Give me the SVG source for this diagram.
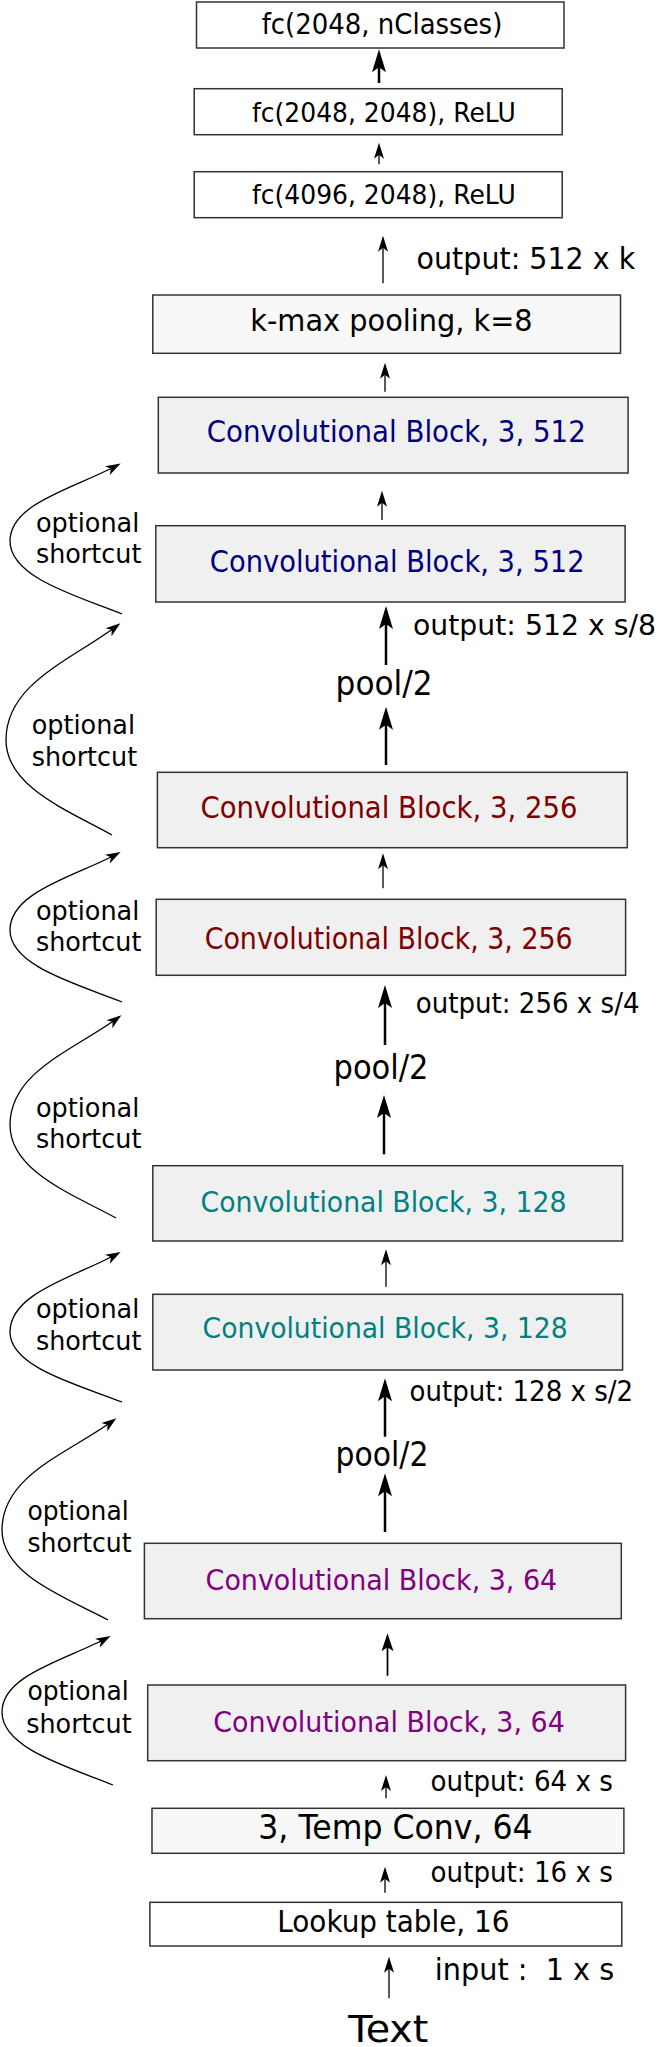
<svg xmlns="http://www.w3.org/2000/svg" width="664" height="2047" viewBox="0 0 664 2047">
<style>
text{font-family:"DejaVu Sans","Liberation Sans",sans-serif;fill:#000}
.box{stroke:#333;stroke-width:1.5}
.w{fill:#fff}.l{fill:#f8f8f8}.g{fill:#f0f0f0}
.c512{fill:#000080}.c256{fill:#800000}.c128{fill:#008080}.c64{fill:#800080}
.thin{stroke:#000;stroke-width:1.3;fill:none;marker-end:url(#ah-thin)}
.med{stroke:#000;stroke-width:1.8;fill:none;marker-end:url(#ah-med)}
.thick{stroke:#000;stroke-width:2.5;fill:none;marker-end:url(#ah-thick)}
.sc{stroke:#000;stroke-width:1.3;fill:none;marker-end:url(#ah-curve)}
</style>
<defs>
<marker id="ah-thin" markerUnits="userSpaceOnUse" orient="auto" refX="0" refY="0" markerWidth="1" markerHeight="1" overflow="visible"><path d="M4,0 L-12,-5 L-8,0 L-12,5 Z" fill="#000"/></marker>
<marker id="ah-med" markerUnits="userSpaceOnUse" orient="auto" refX="0" refY="0" markerWidth="1" markerHeight="1" overflow="visible"><path d="M5,0 L-13,-6 L-9,0 L-13,6 Z" fill="#000"/></marker>
<marker id="ah-thick" markerUnits="userSpaceOnUse" orient="auto" refX="0" refY="0" markerWidth="1" markerHeight="1" overflow="visible"><path d="M6,0 L-17,-7 L-12,0 L-17,7 Z" fill="#000"/></marker>
<marker id="ah-curve" markerUnits="userSpaceOnUse" orient="auto" refX="0" refY="0" markerWidth="1" markerHeight="1" overflow="visible"><path d="M3,0 L-12,-5 L-8,0 L-12,5 Z" fill="#000"/></marker>
</defs>
<rect width="664" height="2047" fill="#fff"/>

<g id="connectors">
<line class="thick" x1="379" y1="83" x2="379" y2="55.3"/>
<line class="thin" x1="379" y1="164.3" x2="379" y2="146.7"/>
<line class="thin" x1="383" y1="283.3" x2="383" y2="239.7"/>
<line class="thin" x1="385" y1="391.7" x2="385" y2="366.7"/>
<line class="thin" x1="382" y1="520" x2="382" y2="494.7"/>
<line class="thick" x1="386" y1="665" x2="386" y2="612"/>
<line class="thick" x1="386" y1="765" x2="386" y2="712.7"/>
<line class="thin" x1="383" y1="888.3" x2="383" y2="857.3"/>
<line class="thick" x1="385" y1="1045" x2="385" y2="991"/>
<line class="thick" x1="384" y1="1154.3" x2="384" y2="1101"/>
<line class="thin" x1="386" y1="1286.7" x2="386" y2="1253.3"/>
<line class="thick" x1="385" y1="1436.7" x2="385" y2="1384.3"/>
<line class="thick" x1="385" y1="1532" x2="385" y2="1479.3"/>
<line class="med" x1="387.5" y1="1675.7" x2="387.5" y2="1638.3"/>
<line class="thin" x1="386" y1="1798.3" x2="386" y2="1779"/>
<line class="thin" x1="385" y1="1892.7" x2="385" y2="1870.7"/>
<line class="thin" x1="389" y1="1998.3" x2="389" y2="1960.7"/>

<path class="sc" d="M122,614 C77,596 10,577.5 10,541 C10,503 75,488 118,465"/>
<path class="sc" d="M112,835 C69.6,811 6,787.5 6,740 C6,682.5 73,659.5 118,625"/>
<path class="sc" d="M122,1002 C77,984 10,966 10,930 C10,891.7 75,876.5 118,853.5"/>
<path class="sc" d="M116,1218 C73.6,1194.7 10,1171.5 10,1125 C10,1071 75.4,1049.4 119,1017"/>
<path class="sc" d="M122,1402 C77,1384.5 10,1367 10,1332 C10,1292.7 75,1277 118,1253.5"/>
<path class="sc" d="M108,1620 C65.6,1597.5 2,1575 2,1530 C2,1475 69,1453 114,1420"/>
<path class="sc" d="M113,1785 C68.6,1766.75 2,1748.5 2,1712 C2,1674.75 65.6,1660 108,1637.5"/>
</g>

<g id="fc3"><rect class="box w" x="196.5" y="2" width="367.5" height="46"/><text x="261.7" y="34.3" font-size="28" textLength="240.6" lengthAdjust="spacingAndGlyphs">fc(2048, nClasses)</text></g>
<g id="fc2"><rect class="box w" x="194.2" y="88.7" width="368" height="46"/><text x="252" y="122.3" font-size="27" textLength="263.8" lengthAdjust="spacingAndGlyphs">fc(2048, 2048), ReLU</text></g>
<g id="fc1"><rect class="box w" x="194.2" y="171.7" width="368" height="46"/><text x="252" y="204.3" font-size="27" textLength="263.8" lengthAdjust="spacingAndGlyphs">fc(4096, 2048), ReLU</text></g>
<g id="kmax"><rect class="box l" x="152.8" y="295" width="467.7" height="58.3"/><text x="250.3" y="331" font-size="31" textLength="282.4" lengthAdjust="spacingAndGlyphs">k-max pooling, k=8</text></g>
<g id="conv512a"><rect class="box g" x="158.3" y="397.3" width="469.8" height="75.7"/><text class="c512" x="206.8" y="442.3" font-size="29.5" textLength="379" lengthAdjust="spacingAndGlyphs">Convolutional Block, 3, 512</text></g>
<g id="conv512b"><rect class="box g" x="155.8" y="525.7" width="469.3" height="76.3"/><text class="c512" x="209.8" y="571.7" font-size="29.5" textLength="374.8" lengthAdjust="spacingAndGlyphs">Convolutional Block, 3, 512</text></g>
<g id="conv256a"><rect class="box g" x="157.4" y="772.3" width="469.9" height="75.4"/><text class="c256" x="200.5" y="818.3" font-size="29.5" textLength="376.9" lengthAdjust="spacingAndGlyphs">Convolutional Block, 3, 256</text></g>
<g id="conv256b"><rect class="box g" x="156.2" y="899.3" width="469.4" height="76"/><text class="c256" x="204.7" y="949" font-size="29.5" textLength="368" lengthAdjust="spacingAndGlyphs">Convolutional Block, 3, 256</text></g>
<g id="conv128a"><rect class="box g" x="152.8" y="1165.7" width="469.8" height="75.3"/><text class="c128" x="200.5" y="1211.7" font-size="29" textLength="366" lengthAdjust="spacingAndGlyphs">Convolutional Block, 3, 128</text></g>
<g id="conv128b"><rect class="box g" x="152.8" y="1294.3" width="469.8" height="75.7"/><text class="c128" x="202.6" y="1338.3" font-size="29" textLength="365.1" lengthAdjust="spacingAndGlyphs">Convolutional Block, 3, 128</text></g>
<g id="conv64a"><rect class="box g" x="144.4" y="1543.3" width="476.9" height="75.4"/><text class="c64" x="205.6" y="1590" font-size="29" textLength="351.6" lengthAdjust="spacingAndGlyphs">Convolutional Block, 3, 64</text></g>
<g id="conv64b"><rect class="box g" x="147.7" y="1685" width="477.9" height="75.7"/><text class="c64" x="213.2" y="1731.7" font-size="29" textLength="351.6" lengthAdjust="spacingAndGlyphs">Convolutional Block, 3, 64</text></g>
<g id="tempconv"><rect class="box l" x="152" y="1808.3" width="471.9" height="45"/><text x="258.3" y="1839" font-size="33" textLength="274.4" lengthAdjust="spacingAndGlyphs">3, Temp Conv, 64</text></g>
<g id="lookup"><rect class="box w" x="149.9" y="1902.3" width="471.9" height="43.7"/><text x="277.3" y="1932" font-size="30.5" textLength="232.2" lengthAdjust="spacingAndGlyphs">Lookup table, 16</text></g>
<g id="input"><text x="348.2" y="2041.7" font-size="38" textLength="80.2" lengthAdjust="spacingAndGlyphs">Text</text></g>

<g id="labels">
<text x="416.6" y="269.3" font-size="30" textLength="218.7" lengthAdjust="spacingAndGlyphs">output: 512 x k</text>
<text x="413" y="635" font-size="28.5" textLength="243" lengthAdjust="spacingAndGlyphs">output: 512 x s/8</text>
<text x="335.6" y="695" font-size="33" textLength="97" lengthAdjust="spacingAndGlyphs">pool/2</text>
<text x="415.8" y="1013.3" font-size="28" textLength="223.7" lengthAdjust="spacingAndGlyphs">output: 256 x s/4</text>
<text x="333.5" y="1079.3" font-size="33" textLength="95" lengthAdjust="spacingAndGlyphs">pool/2</text>
<text x="409.5" y="1400.7" font-size="28" textLength="223.7" lengthAdjust="spacingAndGlyphs">output: 128 x s/2</text>
<text x="335.6" y="1466" font-size="33" textLength="92.8" lengthAdjust="spacingAndGlyphs">pool/2</text>
<text x="430.6" y="1790.7" font-size="28" textLength="182.3" lengthAdjust="spacingAndGlyphs">output: 64 x s</text>
<text x="430.6" y="1881.7" font-size="28" textLength="182.3" lengthAdjust="spacingAndGlyphs">output: 16 x s</text>
<text x="434.8" y="1980" font-size="30.5" textLength="179.4" lengthAdjust="spacingAndGlyphs" xml:space="preserve">input :  1 x s</text>
</g>

<g id="shortcut-labels" font-size="27">
<text x="35.9" y="531.7" textLength="103.4" lengthAdjust="spacingAndGlyphs">optional</text>
<text x="35.9" y="563.3" textLength="105.5" lengthAdjust="spacingAndGlyphs">shortcut</text>
<text x="31.7" y="734" textLength="103.4" lengthAdjust="spacingAndGlyphs">optional</text>
<text x="31.7" y="766" textLength="105.5" lengthAdjust="spacingAndGlyphs">shortcut</text>
<text x="35.9" y="920" textLength="103.4" lengthAdjust="spacingAndGlyphs">optional</text>
<text x="35.9" y="951" textLength="105.5" lengthAdjust="spacingAndGlyphs">shortcut</text>
<text x="35.9" y="1116.7" textLength="103.4" lengthAdjust="spacingAndGlyphs">optional</text>
<text x="35.9" y="1148.3" textLength="105.5" lengthAdjust="spacingAndGlyphs">shortcut</text>
<text x="35.9" y="1318.3" textLength="103.4" lengthAdjust="spacingAndGlyphs">optional</text>
<text x="35.9" y="1350" textLength="105.5" lengthAdjust="spacingAndGlyphs">shortcut</text>
<text x="27.4" y="1520" textLength="101.3" lengthAdjust="spacingAndGlyphs">optional</text>
<text x="27.4" y="1551.7" textLength="104.3" lengthAdjust="spacingAndGlyphs">shortcut</text>
<text x="27.4" y="1700" textLength="101.3" lengthAdjust="spacingAndGlyphs">optional</text>
<text x="26.2" y="1733.3" textLength="105.5" lengthAdjust="spacingAndGlyphs">shortcut</text>
</g>
</svg>
